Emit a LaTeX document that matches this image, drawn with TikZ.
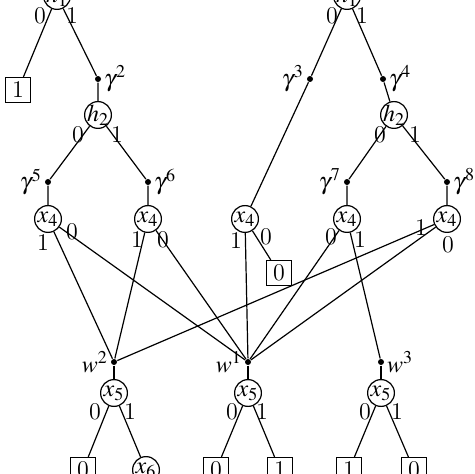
\documentclass[tikz,border=0pt]{standalone}
\usepackage{mathptmx}
\begin{document}
\begin{tikzpicture}[x=0.5pt,y=-0.5pt,line width=0.6pt,font=\large,
	var/.style={circle,draw,inner sep=-1.5pt,minimum size=13.4pt},
	leaf/.style={rectangle,draw,inner sep=0pt,minimum size=12.5pt},
	pnt/.style={circle,fill,inner sep=0pt,minimum size=3pt},
	lbl/.style={inner sep=1pt}]
	\useasboundingbox (0,0) rectangle (474,474);
	\clip (0,0) rectangle (474,474);
	
	% roots
	\node[var] (h1a) at (57,-4) {$h_1$};
	\node[var] (h1b) at (347,-4) {$h_1$};
	\node[leaf] (one) at (18,90) {1};
	\node[pnt,label={[lbl]right:$\gamma^2$}] (g2) at (98,79) {};
	\node[pnt,label={[lbl]left:$\gamma^3$}] (g3) at (310,79) {};
	\node[pnt,label={[lbl]right:$\gamma^4$}] (g4) at (383,79) {};
	\node[var] (h2a) at (98,115) {$h_2$};
	\node[var] (h2b) at (394,115) {$h_2$};
	
	% x4 layer
	\node[pnt,label={[lbl]left:$\gamma^5$}] (g5) at (48,182) {};
	\node[pnt,label={[lbl]right:$\gamma^6$}] (g6) at (148,182) {};
	\node[pnt,label={[lbl]left:$\gamma^7$}] (g7) at (347,182) {};
	\node[pnt,label={[lbl]right:$\gamma^8$}] (g8) at (447,182) {};
	\node[var] (x4a) at (48,219) {$x_4$};
	\node[var] (x4b) at (148,219) {$x_4$};
	\node[var] (x4c) at (245,219) {$x_4$};
	\node[var] (x4d) at (347,219) {$x_4$};
	\node[var] (x4e) at (447,219) {$x_4$};
	\node[leaf] (zero) at (279,273) {0};
	
	% x5 layer
	\node[pnt,label={[lbl]left:$w^2$}] (w2) at (114,362) {};
	\node[pnt,label={[lbl]left:$w^1$}] (w1) at (248,362) {};
	\node[pnt,label={[lbl]right:$w^3$}] (w3) at (381,362) {};
	\node[var] (x5a) at (114,393) {$x_5$};
	\node[var] (x5b) at (248,393) {$x_5$};
	\node[var] (x5c) at (381,393) {$x_5$};
	\node[leaf] (la) at (83,470) {0};
	\node[var] (x6) at (146,470) {$x_6$};
	\node[leaf] (lb) at (216,470) {0};
	\node[leaf] (lc) at (280,470) {1};
	\node[leaf] (ld) at (349,470) {1};
	\node[leaf] (le) at (414,470) {0};
	
	% edges
	\draw (h1a) -- (one);
	\draw (h1a) -- (g2) -- (h2a);
	\draw (h1b) -- (g3) -- (x4c);
	\draw (h1b) -- (g4) -- (h2b);
	\draw (h2a) -- (g5) -- (x4a);
	\draw (h2a) -- (g6) -- (x4b);
	\draw (h2b) -- (g7) -- (x4d);
	\draw (h2b) -- (g8) -- (x4e);
	\draw (x4a) -- (w2);
	\draw (x4a) -- (w1);
	\draw (x4b) -- (w2);
	\draw (x4b) -- (w1);
	\draw (x4c) -- (w1);
	\draw (x4c) -- (zero);
	\draw (x4d) -- (w1);
	\draw (x4d) -- (w3);
	\draw (x4e) -- (w2);
	\draw (x4e) -- (w1);
	\draw (w2) -- (x5a);
	\draw (w1) -- (x5b);
	\draw (w3) -- (x5c);
	\draw (x5a) -- (la);
	\draw (x5a) -- (x6);
	\draw (x5b) -- (lb);
	\draw (x5b) -- (lc);
	\draw (x5c) -- (ld);
	\draw (x5c) -- (le);
	
	% branch labels
	\node (l1) at (40,16) {0};   \node (l2) at (72,16) {1};
	\node (l3) at (332,16) {0};  \node (l4) at (362,16) {1};
	\node (l5) at (78,135) {0};  \node (l6) at (117,135) {1};
	\node (l7) at (380,135) {0}; \node (l8) at (415,135) {1};
	\node (l9) at (43,243) {1};  \node (l10) at (72,232) {0};
	\node (l11) at (137,240) {1};\node (l12) at (163,240) {0};
	\node (l13) at (236,241) {1};\node (l14) at (266,237) {0};
	\node (l15) at (331,237) {0};\node (l16) at (360,240) {1};
	\node (l17) at (421,228) {1};\node (l18) at (448,245) {0};
	\node (l19) at (95,412) {0}; \node (l20) at (130,412) {1};
	\node (l21) at (232,412) {0};\node (l22) at (262,412) {1};
	\node (l23) at (365,412) {0};\node (l24) at (397,412) {1};
\end{tikzpicture}
\end{document}
